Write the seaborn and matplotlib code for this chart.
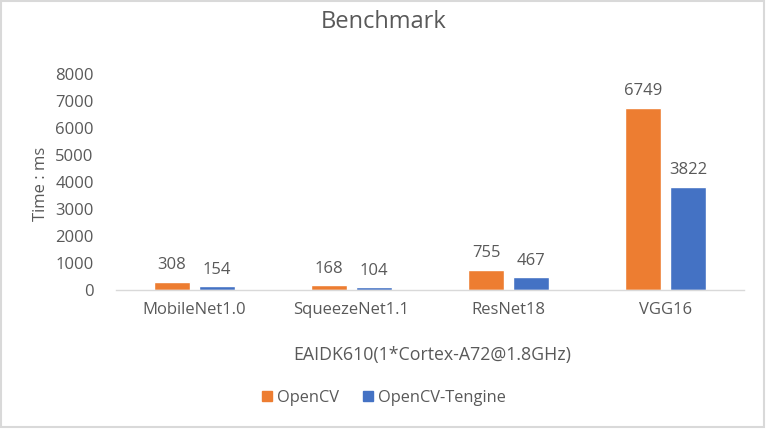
import pandas as pd
import matplotlib.pyplot as plt
import seaborn as sns
from matplotlib.patches import Rectangle

models = ["MobileNet1.0", "SqueezeNet1.1", "ResNet18", "VGG16"]
opencv = [308, 168, 755, 6749]
tengine = [154, 104, 467, 3822]
series = ["OpenCV", "OpenCV-Tengine"]
colors = ["#ED7D31", "#4472C4"]
yticks = [0, 1000, 2000, 3000, 4000, 5000, 6000, 7000, 8000]

TXT = "#595959"
LINE = "#D9D9D9"

df = pd.DataFrame({
    "model": models * 2,
    "series": [series[0]] * len(models) + [series[1]] * len(models),
    "time": opencv + tengine,
})

sns.set_theme(style="white")
plt.rcParams["font.family"] = ["Open Sans", "DejaVu Sans"]

fig = plt.figure(figsize=(7.68, 4.29), dpi=100)
ax = fig.add_axes([116 / 768, 1 - 290 / 429, 628 / 768, 216 / 429])

sns.barplot(data=df, x="model", y="time", hue="series", order=models,
            hue_order=series, palette=colors, width=0.573, gap=0.22,
            saturation=1, ax=ax, legend=False)

for cont in ax.containers:
    ax.bar_label(cont, fmt="%d", padding=6, fontsize=12, color=TXT)

ax.set_xlim(-0.5, 3.5)
ax.set_ylim(0, 8000)
ax.set_yticks(yticks)
ax.tick_params(axis="y", length=0, pad=16, labelsize=12, labelcolor=TXT)
ax.tick_params(axis="x", length=0, pad=9, labelsize=12, labelcolor=TXT)

for s in ["left", "right", "top"]:
    ax.spines[s].set_visible(False)
ax.spines["bottom"].set_color(LINE)
ax.spines["bottom"].set_linewidth(1)

ax.set_ylabel("Time : ms", fontsize=12, color=TXT)
ax.yaxis.set_label_coords((41 - 116) / 628, 0.49)
ax.yaxis.label.set_verticalalignment("center")
ax.set_xlabel("EAIDK610(1*Cortex-A72@1.8GHz)", fontsize=12.8, color=TXT)
ax.xaxis.set_label_coords((432 - 116) / 628, -(355 - 290) / 216)
ax.xaxis.label.set_verticalalignment("center")

fig.text(0.5, 1 - 22 / 429, "Benchmark", ha="center", va="center",
         fontsize=17, color=TXT)

handles = [Rectangle((0, 0), 1, 1, color=c) for c in colors]
fig.legend(handles, series, loc="center", bbox_to_anchor=(384 / 768, 1 - 398 / 429),
           ncol=2, frameon=False, fontsize=11.8, labelcolor=TXT,
           handlelength=0.6, handleheight=0.6, handletextpad=0.3, columnspacing=1.5)

fig.add_artist(Rectangle((1 / 768, 2 / 429), 763 / 768, 426 / 429,
                         transform=fig.transFigure, fill=False,
                         edgecolor=LINE, linewidth=1.5))

fig.savefig("out.png", dpi=100)
plt.close(fig)
